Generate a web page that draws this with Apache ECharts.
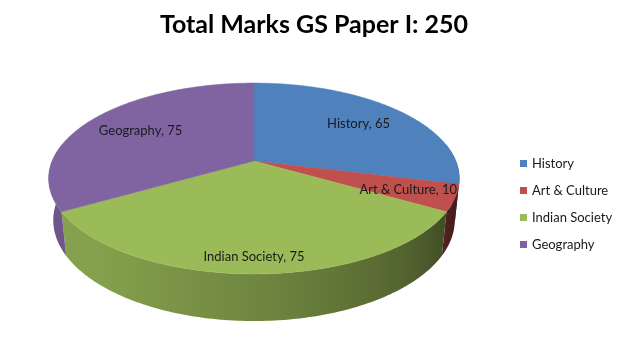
<!DOCTYPE html>
<html>
<head>
<meta charset="utf-8">
<script src="https://cdn.jsdelivr.net/npm/echarts@6/dist/echarts.min.js"></script>
<style>
html,body{margin:0;padding:0;background:#fff;}
#chart{width:628px;height:357px;}
</style>
</head>
<body>
<div id="chart"></div>
<script>
// ---- data ----
const categories = ['History', 'Art & Culture', 'Indian Society', 'Geography'];
const marks = [65, 10, 75, 75];
const titleText = 'Total Marks GS Paper I: 250';

// ---- styles ----
const colors = ['#4f81bd', '#c0504d', '#9bbb59', '#8064a2'];
const FONT = 'Lato, "Open Sans", sans-serif';
const labelRadius = { 'History': 0.71, 'Art & Culture': 0.78, 'Indian Society': 0.87, 'Geography': 0.69 };

// projection settings (3D pie look)
const VIEW = { cx: 254, cy: 161, F: 979, D: 4.85, sa: 0.457, ca: 0.889, thick: 0.234 };

function project(u, w, z) {
  const Y = w * VIEW.sa + z * VIEW.ca;
  const Z = VIEW.D + w * VIEW.ca - z * VIEW.sa;
  return { x: VIEW.cx + VIEW.F * u / Z, y: VIEW.cy - VIEW.F * Y / Z, depth: Z };
}
function rim(deg, z, r) {
  const a = deg * Math.PI / 180;
  r = r == null ? 1 : r;
  return project(r * Math.cos(a), r * Math.sin(a), z);
}
function shadeColor(hex, f) {
  const n = parseInt(hex.slice(1), 16);
  const r = Math.round(((n >> 16) & 255) * f), g = Math.round(((n >> 8) & 255) * f), b = Math.round((n & 255) * f);
  return 'rgb(' + r + ',' + g + ',' + b + ')';
}
function wallFactor(deg) {
  let phi = ((deg % 360) + 360) % 360;
  if (phi < 90) phi += 360;
  const x = (phi - 210) / 60;
  let f = 0.9 - 0.12 * x - 0.06 * x * x;
  return Math.max(0.36, Math.min(0.86, f));
}
function wallGradient(hex) {
  const left = rim(180, 0).x - 6, right = rim(360, 0).x + 6;
  const stops = [];
  for (let d = 180; d <= 360; d += 10) {
    const x = rim(d, -VIEW.thick / 2).x;
    stops.push({ offset: Math.min(1, Math.max(0, (x - left) / (right - left))), color: shadeColor(hex, wallFactor(d)) });
  }
  stops.sort((a, b) => a.offset - b.offset);
  return new echarts.graphic.LinearGradient(left, 0, right, 0, stops, true);
}

const total = marks.reduce((a, b) => a + b, 0);
const cum = [];
marks.reduce((acc, v, i) => { cum[i] = acc; return acc + v; }, 0);
function sliceAngles(i, v) {
  const a0 = 90 - cum[i] / total * 360;
  const a1 = a0 - v / total * 360;
  return [a0, a1];
}

const seriesData = categories.map((name, i) => ({ name: name, value: [marks[i]] }));

function renderWall(params, api) {
  const i = params.dataIndex;
  const v = api.value(0);
  const [a0, a1] = sliceAngles(i, v);
  const n = Math.max(2, Math.ceil(Math.abs(a0 - a1) / 1));
  const topPts = [], botPts = [];
  for (let k = 0; k <= n; k++) {
    const d = a0 + (a1 - a0) * k / n;
    if (Math.sin(d * Math.PI / 180) > 0.2) continue;
    const t = rim(d, 0), b = rim(d, -VIEW.thick);
    topPts.push([t.x, t.y]);
    botPts.push([b.x, b.y]);
  }
  if (topPts.length < 2) return { type: 'group', children: [] };
  const pts = topPts.concat(botPts.reverse());
  const grad = wallGradient(colors[i]);
  return {
    type: 'polygon',
    shape: { points: pts },
    style: { fill: grad, stroke: null }
  };
}

function renderTop(params, api) {
  const i = params.dataIndex;
  const v = api.value(0);
  const [a0, a1] = sliceAngles(i, v);
  const n = Math.max(2, Math.ceil(Math.abs(a0 - a1) / 1));
  const c = project(0, 0, 0);
  const pts = [[c.x, c.y]];
  for (let k = 0; k <= n; k++) {
    const p = rim(a0 + (a1 - a0) * k / n, 0);
    pts.push([p.x, p.y]);
  }
  const name = categories[i];
  const lp = rim((a0 + a1) / 2, 0, labelRadius[name]);
  return {
    type: 'group',
    children: [
      {
        type: 'polygon', z2: 10,
        shape: { points: pts },
        style: { fill: colors[i], stroke: colors[i], lineWidth: 0.5 }
      },
      {
        type: 'text', z2: 20,
        style: {
          x: lp.x, y: lp.y, text: name + ', ' + v,
          fill: '#1a1a1a', font: '13px ' + FONT,
          align: 'center', verticalAlign: 'middle'
        }
      }
    ]
  };
}

const chart = echarts.init(document.getElementById('chart'), null, { renderer: 'canvas' });
chart.setOption({
  animation: false,
  color: colors,
  title: {
    text: titleText,
    left: 'center',
    top: 7,
    textStyle: { fontFamily: FONT, fontSize: 25, fontWeight: 'bold', color: '#000' }
  },
  legend: {
    data: categories,
    orient: 'vertical',
    left: 515,
    top: 152,
    icon: 'rect',
    itemWidth: 7,
    itemHeight: 7,
    itemGap: 14,
    selectedMode: false,
    textStyle: { fontFamily: FONT, fontSize: 13, color: '#1a1a1a' }
  },
  series: [
    {
      type: 'pie', radius: [0, 0], center: [-100, -100], silent: true,
      label: { show: false }, labelLine: { show: false },
      data: categories.map((name, i) => ({ name: name, value: marks[i] }))
    },
    { type: 'custom', coordinateSystem: 'none', silent: true, z: 2, renderItem: renderWall, data: seriesData },
    { type: 'custom', coordinateSystem: 'none', silent: true, z: 3, renderItem: renderTop, data: seriesData }
  ]
});
</script>
</body>
</html>
